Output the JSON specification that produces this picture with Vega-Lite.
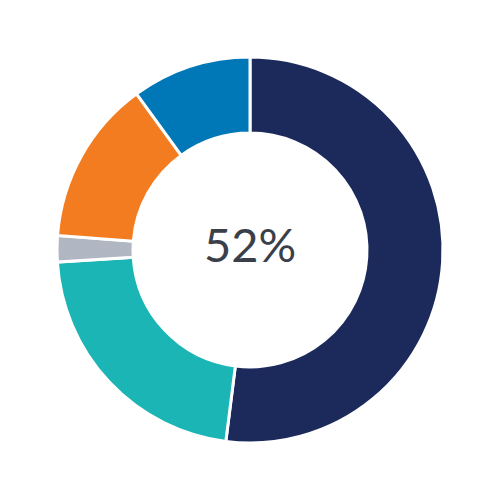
{
  "$schema": "https://vega.github.io/schema/vega-lite/v6.json",
  "width": 500,
  "height": 500,
  "autosize": {"type": "fit", "contains": "padding"},
  "padding": 0,
  "background": "white",
  "view": {"stroke": null},
  "data": {"values": [
    {"segment": "A", "order": 1, "value": 52},
    {"segment": "B", "order": 2, "value": 22},
    {"segment": "C", "order": 3, "value": 2.2},
    {"segment": "D", "order": 4, "value": 13.8},
    {"segment": "E", "order": 5, "value": 10}
  ]},
  "layer": [
    {
      "mark": {"type": "arc", "outerRadius": 193, "innerRadius": 117, "stroke": "white", "strokeWidth": 3},
      "encoding": {
        "theta": {"field": "value", "type": "quantitative", "stack": true},
        "order": {"field": "order", "type": "quantitative"},
        "color": {
          "field": "segment", "type": "nominal", "legend": null,
          "scale": {"domain": ["A", "B", "C", "D", "E"], "range": ["#1b2a5a", "#1cb5b5", "#b0b7c3", "#f47c20", "#0077b6"]}
        }
      }
    },
    {
      "data": {"values": [{"label": "52%"}]},
      "mark": {"type": "text", "font": "Lato", "fontSize": 47, "color": "#3a3f4a", "baseline": "middle", "align": "center", "dy": -2},
      "encoding": {"text": {"field": "label"}}
    }
  ]
}
